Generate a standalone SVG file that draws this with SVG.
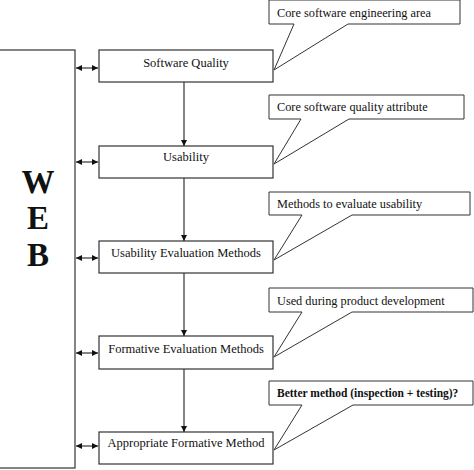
<svg xmlns="http://www.w3.org/2000/svg" width="474" height="470" viewBox="0 0 474 470">
<style>
.box{fill:#fff;stroke:#333;stroke-width:1.2}
.t{font-family:"Liberation Serif","Times New Roman",serif;font-size:12.5px;fill:#111;text-anchor:middle}
.c{font-family:"Liberation Serif","Times New Roman",serif;font-size:12.3px;fill:#111}
.cb{font-weight:bold;font-size:11.5px}
.call{fill:#fff;stroke:#333;stroke-width:1}
.ln{stroke:#333;stroke-width:1.2;fill:none}
.web{font-family:"Liberation Serif","Times New Roman",serif;font-size:33px;font-weight:bold;fill:#111;text-anchor:middle}
</style>
<defs>
<marker id="ah" viewBox="0 0 10 10" refX="10" refY="5" markerWidth="6" markerHeight="6" markerUnits="userSpaceOnUse" orient="auto-start-reverse">
<path d="M0,0 L10,5 L0,10 z" fill="#111"/>
</marker>
</defs>
<rect width="474" height="470" fill="#fff"/>
<g id="web">
<rect class="box" x="-2" y="50" width="77" height="418"/>
<text class="web" x="38" y="193">W</text>
<text class="web" x="38" y="229">E</text>
<text class="web" x="38" y="266">B</text>
</g>
<g id="callout1">
<path class="call" d="M269,0 H460 V24 H348 L274,70 L294,24 H269 Z"/>
<text class="c" x="277" y="17">Core software engineering area</text>
</g>
<g id="callout2">
<path class="call" d="M269,95 H464 V119 H349 L274,164 L301,119 H269 Z"/>
<text class="c" x="277" y="111">Core software quality attribute</text>
</g>
<g id="callout3">
<path class="call" d="M269,192 H470 V215 H352 L274,260 L302,215 H269 Z"/>
<text class="c" x="277" y="208">Methods to evaluate usability</text>
</g>
<g id="callout4">
<path class="call" d="M269,288 H473 V312 H352 L274,357 L302,312 H269 Z"/>
<text class="c" x="277" y="305">Used during product development</text>
</g>
<g id="callout5">
<path class="call" d="M269,381 H473 V405 H353 L274,450 L302,405 H269 Z"/>
<text class="c cb" x="277" y="397">Better method (inspection + testing)?</text>
</g>
<g id="n1">
<rect class="box" x="99" y="50" width="174" height="32"/>
<text class="t" x="186" y="67">Software Quality</text>
</g>
<g id="n2">
<rect class="box" x="99" y="146" width="174" height="32"/>
<text class="t" x="186" y="161">Usability</text>
</g>
<g id="n3">
<rect class="box" x="99" y="241" width="174" height="32"/>
<text class="t" x="186" y="257">Usability Evaluation Methods</text>
</g>
<g id="n4">
<rect class="box" x="99" y="336" width="174" height="33"/>
<text class="t" x="186" y="353">Formative Evaluation Methods</text>
</g>
<g id="n5">
<rect class="box" x="99" y="432" width="174" height="32"/>
<text class="t" x="186" y="447">Appropriate Formative Method</text>
</g>
<g id="connectors">
<line class="ln" x1="184" y1="82" x2="184" y2="146" marker-end="url(#ah)"/>
<line class="ln" x1="184" y1="178" x2="184" y2="241" marker-end="url(#ah)"/>
<line class="ln" x1="184" y1="273" x2="184" y2="336" marker-end="url(#ah)"/>
<line class="ln" x1="184" y1="369" x2="184" y2="432" marker-end="url(#ah)"/>
<line class="ln" x1="76" y1="68" x2="98" y2="68" marker-start="url(#ah)" marker-end="url(#ah)"/>
<line class="ln" x1="76" y1="162" x2="98" y2="162" marker-start="url(#ah)" marker-end="url(#ah)"/>
<line class="ln" x1="76" y1="258" x2="98" y2="258" marker-start="url(#ah)" marker-end="url(#ah)"/>
<line class="ln" x1="76" y1="353" x2="98" y2="353" marker-start="url(#ah)" marker-end="url(#ah)"/>
<line class="ln" x1="76" y1="446" x2="98" y2="446" marker-start="url(#ah)" marker-end="url(#ah)"/>
</g>
</svg>
